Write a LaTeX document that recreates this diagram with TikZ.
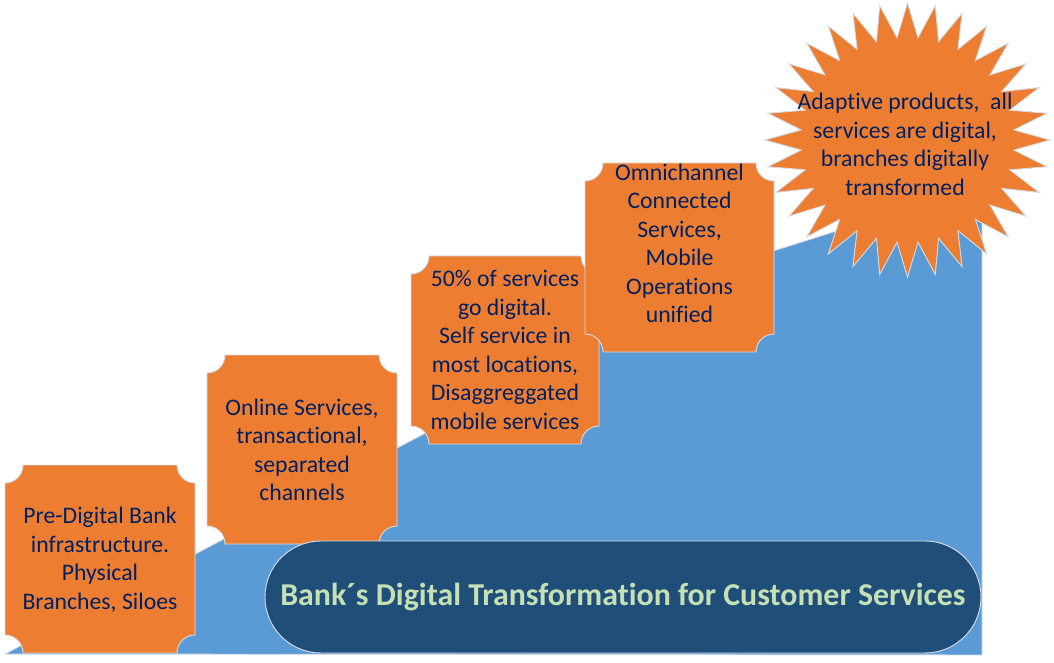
\documentclass[tikz,border=0pt]{standalone}
\usepackage{fontspec}
\setmainfont{Carlito}[Ligatures={NoCommon}]
\definecolor{orng}{HTML}{ED7D31}
\definecolor{bluearea}{HTML}{5B9BD5}
\definecolor{bannerblue}{HTML}{1F4E79}
\definecolor{bantext}{HTML}{C5E0B4}
\definecolor{navy}{HTML}{002060}
\definecolor{edgec}{HTML}{D6DCE5}
\newcommand{\plaqueshape}[4]{%
  \filldraw[plaquestyle] (#1+18,-#2) -- (#3-18,-#2)
    arc[start angle=180,end angle=270,radius=18] -- (#3,-#4+18)
    arc[start angle=90,end angle=180,radius=18] -- (#1+18,-#4)
    arc[start angle=0,end angle=90,radius=18] -- (#1,-#2-18)
    arc[start angle=270,end angle=360,radius=18] -- cycle;}
\begin{document}
\begin{tikzpicture}[x=0.75pt,y=0.75pt,
  plaquestyle/.style={fill=orng,draw=edgec,line width=0.7pt},
  boxtext/.style={align=center,text=navy,inner sep=0pt,font=\fontsize{17.8}{21.4}\selectfont},
  bannerstyle/.style={fill=bannerblue,draw=edgec,line width=0.7pt,text=bantext,
     font=\bfseries\fontsize{23.9}{28}\selectfont,rounded corners=42pt,
     minimum width=537pt,minimum height=84pt,inner sep=0pt}]
\useasboundingbox (0,0) rectangle (1054,-663);
% blue rising area
\filldraw[fill=bluearea,draw=edgec,line width=0.7pt] (5,-654) -- (770,-252) -- (982,-185) -- (982,-655) -- cycle;
% step boxes
\plaqueshape{5}{465}{195}{653}
\plaqueshape{207}{355}{397}{544}
\plaqueshape{411}{256}{599}{444}
\plaqueshape{585}{163}{774}{352}
% star
\filldraw[fill=orng,draw=edgec,line width=0.7pt] plot[variable=\k,samples at={0,...,63}]
  ({907.5+(142.5-35.6*mod(\k,2))*cos(90+5.625*\k)},{-140+(137-34.25*mod(\k,2))*sin(90+5.625*\k)}) -- cycle;
% texts
\node[boxtext] (t1) at (100,-560) {Pre-Digital Bank\\infrastructure.\\Physical\\Branches, Siloes};
\node[boxtext] (t2) at (302,-450) {Online Services,\\transactional,\\separated\\channels};
\node[boxtext] (t3) at (505,-350) {50\% of services\\go digital.\\Self service in\\most locations,\\Disaggreggated\\mobile services};
\node[boxtext] (t4) at (679.5,-243.5) {Omnichannel\\Connected\\Services,\\Mobile\\Operations\\unified};
\node[boxtext] (t5) at (905,-144.5) {Adaptive products,~ all\\services are digital,\\branches digitally\\transformed};
% banner
\node[bannerstyle] (banner) at (623,-597) {Bank´s Digital Transformation for Customer Services};
\end{tikzpicture}
\end{document}
